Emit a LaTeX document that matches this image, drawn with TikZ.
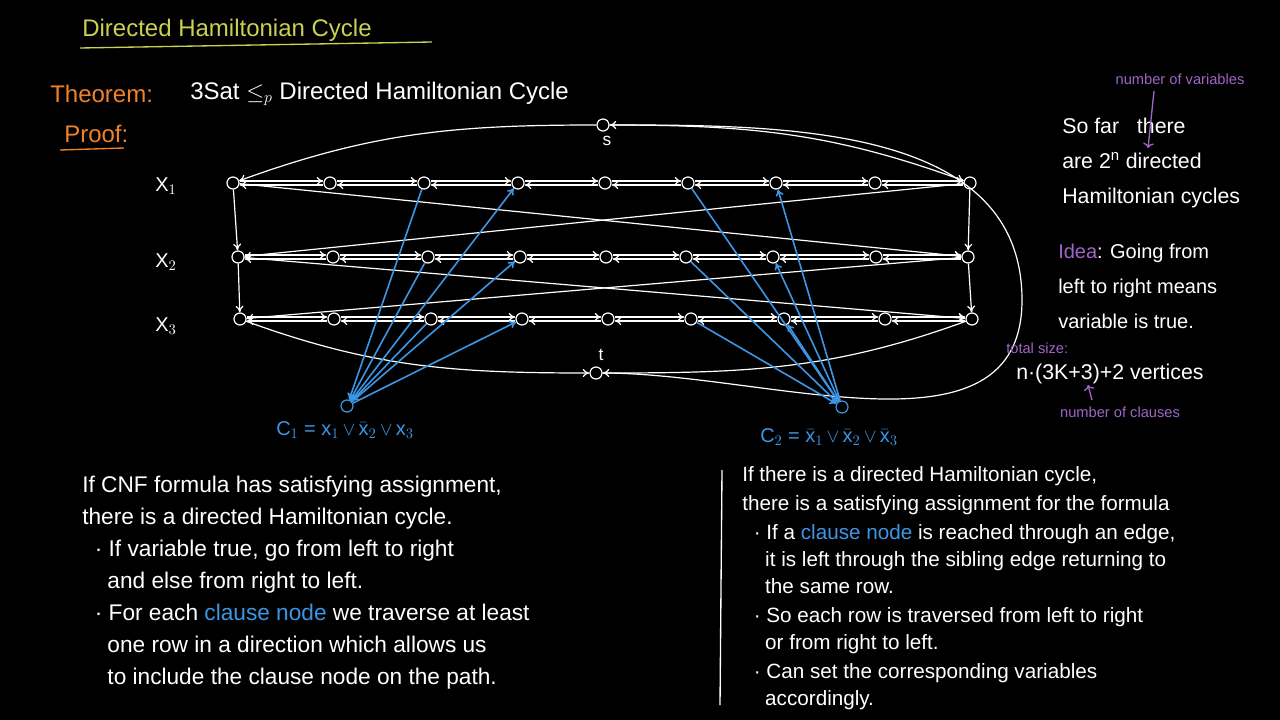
\documentclass[tikz,border=0pt]{standalone}
\usepackage{fontspec}
\setmainfont{Liberation Sans}
\usetikzlibrary{arrows.meta}
\definecolor{tgreen}{RGB}{200,210,80}
\definecolor{torange}{RGB}{240,130,40}
\definecolor{tblue}{RGB}{60,150,230}
\definecolor{tpurple}{RGB}{160,100,200}
\newcommand{\vor}{$\,\vee\,$}
\begin{document}
\begin{tikzpicture}[x=0.75pt,y=-0.75pt,
  v/.style={circle,draw=white,line width=0.9pt,minimum size=9pt,inner sep=0pt},
  e/.style={white,line width=0.9pt,-{To[length=5pt,width=6pt]}},
  ce/.style={tblue,line width=1.2pt,-{To[length=5pt,width=6pt]}},
  txt/.style={white,font=\fontsize{15}{20}\selectfont,anchor=west,inner sep=0pt},
  ptxt/.style={tpurple,font=\fontsize{11}{14}\selectfont,inner sep=0pt}]
\fill[black] (0,0) rectangle (1280,720);
\useasboundingbox (0,0) rectangle (1280,720);
% titles
\node[txt,text=tgreen,font=\fontsize{18}{20}\selectfont\scshape] (title) at (82,30) {Directed Hamiltonian Cycle};
\draw[tgreen,line width=1pt] (80,48) -- (432,42);
\node[txt,text=torange,font=\fontsize{18}{20}\selectfont] (thm) at (50,94) {Theorem:};
\node[txt,font=\fontsize{18}{20}\selectfont] (thm2) at (190,94) {3\textsc{Sat} $\leq_p$ \textsc{Directed Hamiltonian Cycle}};
\node[txt,text=torange,font=\fontsize{18}{20}\selectfont] (prf) at (64,134) {Proof:};
\draw[torange,line width=1pt] (60,150) -- (124,148);
% variable labels
\node[txt] (l1) at (155,186) {X$_1$};
\node[txt] (l2) at (155,262) {X$_2$};
\node[txt] (l3) at (155,326) {X$_3$};
% vertices
\foreach \r/\y/\xs in {1/183/{233,330,424,518,605,688,776,875,970},
                        2/257/{238,333,428,520,606,686,773,876,968},
                        3/319/{240,334,431,522,608,691,784,885,972}}{
  \foreach \x [count=\i] in \xs { \node[v] (n\r-\i) at (\x,\y) {}; }
}
\node[v] (s) at (603,125) {};
\node[white,font=\fontsize{13}{14}\selectfont] (sl) at (607,141) {s};
\node[v] (t) at (596,373) {};
\node[white,font=\fontsize{13}{14}\selectfont] (tl) at (601,355) {t};
\node[v,draw=tblue] (c1) at (347,406) {};
\node[v,draw=tblue] (c2) at (842,407) {};
% row edges
\foreach \r in {1,2,3}{
  \foreach \i [evaluate=\i as \j using int(\i+1)] in {1,...,8}{
    \draw[e] ([yshift=1.5pt]n\r-\i.east) -- ([yshift=1.5pt]n\r-\j.west);
    \draw[e] ([yshift=-1.5pt]n\r-\j.west) -- ([yshift=-1.5pt]n\r-\i.east);
  }
}
% between rows
\draw[e] (s) to[out=180,in=20] (n1-1);
\draw[e] (s) to[out=0,in=160] (n1-9);
\foreach \a/\b in {1/2,2/3}{
  \draw[e] (n\a-1) -- (n\b-1);
  \draw[e] (n\a-9) -- (n\b-9);
  \draw[e] (n\a-1) -- (n\b-9);
  \draw[e] (n\a-9) -- (n\b-1);
}
\draw[e] (n3-1) to[out=-20,in=180] (t);
\draw[e] (n3-9) to[out=200,in=0] (t);
\draw[e] (t) to[out=0,in=-90] (1022,300) to[out=90,in=0] (s);
% clause edges
\foreach \r in {1,2,3}{
  \draw[ce] (n\r-3) -- (c1);
  \draw[ce] (c1) -- (n\r-4);
  \draw[ce] (n\r-6) -- (c2);
  \draw[ce] (c2) -- (n\r-7);
}
\node[txt,text=tblue] (c1l) at (276,430) {C$_1$ = x$_1$\vor$\bar{\mathrm{x}}_2$\vor x$_3$};
\node[txt,text=tblue] (c2l) at (760,437) {C$_2$ = $\bar{\mathrm{x}}_1$\vor$\bar{\mathrm{x}}_2$\vor$\bar{\mathrm{x}}_3$};
% right notes
\node[ptxt] (nv) at (1180,79) {number of variables};
\node[txt,align=left,anchor=north west,font=\fontsize{16}{20}\selectfont] (sofar) at (1062,118) {So far\ \ \ there\\[6pt] are 2$^{\mathrm{n}}$ directed\\[6pt] Hamiltonian cycles};
\coordinate (arrtop) at (1154,91);
\draw[tpurple,line width=1pt,-{To}] (arrtop) -- (1148,148);
\node[txt,anchor=north west,align=left] (idea) at (1058,244) {\textcolor{tpurple}{Idea}: Going from\\[6pt] left to right means\\[6pt] variable is true.};
\node[ptxt,anchor=west] (ts) at (1006,348) {total size:};
\node[txt,font=\fontsize{16}{20}\selectfont] (size) at (1016,374) {n·(3K+3)+2 vertices};
\node[ptxt] (nc) at (1120,412) {number of clauses};
\coordinate (nca) at (1092,400);
\draw[tpurple,line width=1pt,-{To}] (nca) -- (1088,385);
% bottom left
\node[txt,anchor=north west,align=left,font=\fontsize{17}{21}\selectfont] (bl) at (82,476) {If CNF formula has satisfying assignment,\\[3pt]
there is a directed Hamiltonian cycle.\\[3pt]
\ \ · If variable true, go from left to right\\[3pt]
\ \ \ \ and else from right to left.\\[3pt]
\ \ · For each \textcolor{tblue}{clause node} we traverse at least\\[3pt]
\ \ \ \ one row in a direction which allows us\\[3pt]
\ \ \ \ to include the clause node on the path.};
% divider
\coordinate (d1) at (722,470); \coordinate (d2) at (720,705);
\draw[white,line width=1pt] (d1) -- (d2);
\node[txt,anchor=north west,align=left,font=\fontsize{15.5}{19}\selectfont] (br) at (742,466) {If there is a directed Hamiltonian cycle,\\[3pt]
there is a satisfying assignment for the formula\\[3pt]
\ \ · If a \textcolor{tblue}{clause node} is reached through an edge,\\[1pt]
\ \ \ \ it is left through the sibling edge returning to\\[1pt]
\ \ \ \ the same row.\\[3pt]
\ \ · So each row is traversed from left to right\\[1pt]
\ \ \ \ or from right to left.\\[3pt]
\ \ · Can set the corresponding variables\\[1pt]
\ \ \ \ accordingly.};
\end{tikzpicture}
\end{document}
